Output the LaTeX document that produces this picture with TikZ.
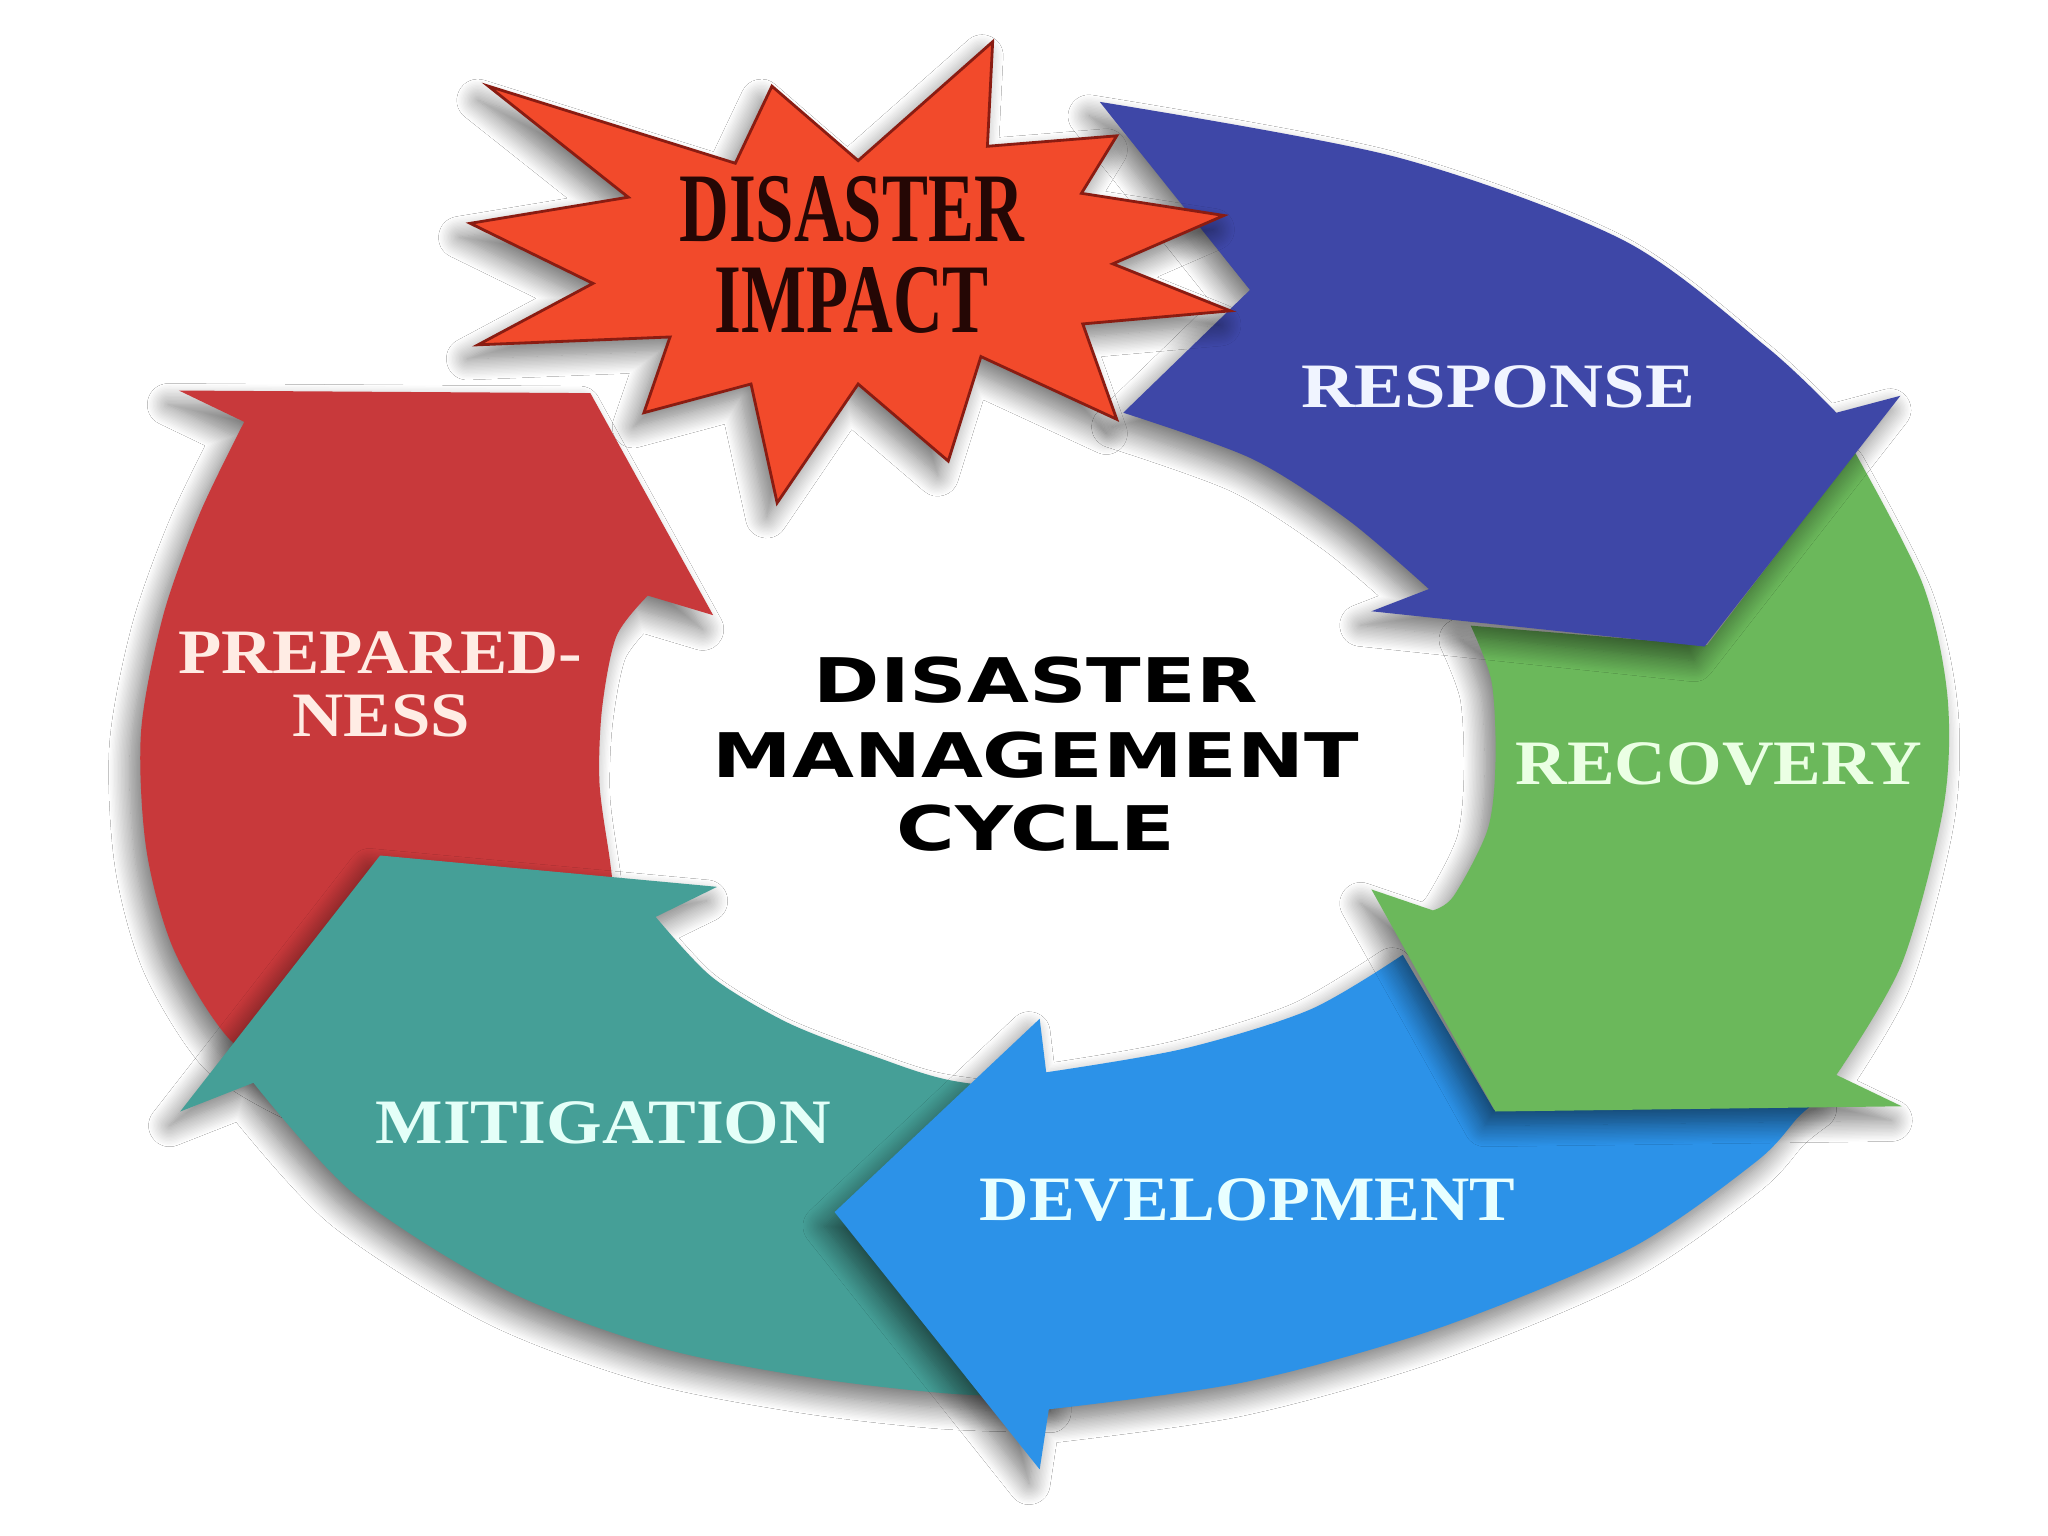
\documentclass[tikz,border=0pt]{standalone}
\usepackage{fontspec}
\usepackage{graphicx}
\setmainfont{Liberation Serif}
\newfontfamily\centerfont{DejaVu Sans}
\usetikzlibrary{shadows.blur}
\definecolor{cblue}{HTML}{3E47A7}
\definecolor{cgreen}{HTML}{6BB85B}
\definecolor{clblue}{HTML}{2C92E8}
\definecolor{cteal}{HTML}{459F97}
\definecolor{cred}{HTML}{C8393B}
\definecolor{cstar}{HTML}{F24A2B}
\definecolor{cstarline}{HTML}{8A1C12}
\definecolor{cstartext}{HTML}{250705}
\begin{document}
\begin{tikzpicture}[x=0.013061cm,y=-0.013061cm,
  arrowshape/.style={blur shadow={shadow xshift=-3pt,shadow yshift=-4pt,shadow blur radius=6pt,shadow blur steps=16,shadow opacity=55}},
  lbl/.style={font=\bfseries\fontsize{18}{18}\selectfont, inner sep=0pt},
  ctext/.style={font=\centerfont\bfseries\fontsize{17.5}{17.5}\selectfont, inner sep=0pt, text=black},
  stext/.style={font=\bfseries\fontsize{28}{28}\selectfont, inner sep=0pt, text=cstartext}
]
\useasboundingbox (0,0) rectangle (1568,1176);
\fill[white] (0,0) rectangle (1568,1176);

% red: preparedness
\fill[cred, arrowshape] (137,299) -- (452,301) -- (546,471) -- (496,456)
  -- plot[smooth] coordinates {(496,456) (472,487) (461,542) (459,600) (467,659) (472,700)}
  -- (230,830)
  -- plot[smooth] coordinates {(230,830) (176,796) (133,727) (112,650) (108,560) (125,471) (153,393) (187,323)}
  -- cycle;

% teal: mitigation
\fill[cteal, arrowshape] (291,655) -- (549,679) -- (502,702)
  -- plot[smooth] coordinates {(502,702) (545,748) (603,783) (670,809) (727,827) (812,838)}
  -- (812,1070)
  -- plot[smooth] coordinates {(812,1070) (727,1067) (623,1055) (506,1032) (388,988) (271,914) (194,829)}
  -- (138,851) -- cycle;

% light blue: development
\fill[clblue, arrowshape] (796,780) -- (639,928) -- (796,1125) -- (803,1079)
  -- plot[smooth] coordinates {(803,1079) (954,1058) (1101,1017) (1248,956) (1345,889) (1378,854) (1398,838)}
  -- (1144,850) -- (1074,731)
  -- plot[smooth] coordinates {(1074,731) (1003,773) (906,803) (801,821)}
  -- cycle;

% green: recovery
\fill[cgreen, arrowshape] (1420,346)
  -- plot[smooth] coordinates {(1420,346) (1472,447) (1491,533) (1488,618) (1456,738) (1406,823)}
  -- (1456,847) -- (1145,851) -- (1050,681) -- (1097,697)
  -- plot[smooth] coordinates {(1097,697) (1113,686) (1139,635) (1145,583) (1142,522) (1126,479)}
  -- (1307,494) -- cycle;

% blue: response
\fill[cblue, arrowshape] (842,78)
  -- plot[smooth] coordinates {(842,78) (1068,120) (1243,184) (1353,266) (1406,316)}
  -- (1455,303) -- (1305,495) -- (1050,468) -- (1094,451)
  -- plot[smooth] coordinates {(1094,451) (1032,398) (958,351) (860,316)}
  -- (957,222) -- cycle;

% star: disaster impact
\filldraw[fill=cstar, draw=cstarline, line width=0.8pt, line join=miter, arrowshape]
  (374,66) -- (563,125) -- (591,66) -- (657,123) -- (760,32) -- (756,112)
  -- (855,104) -- (828,148) -- (937,165) -- (852,202) -- (942,238) -- (829,248)
  -- (855,321) -- (751,273) -- (726,353) -- (657,294) -- (595,385) -- (575,294)
  -- (493,316) -- (513,258) -- (366,264) -- (454,217) -- (360,171) -- (481,151) -- cycle;

\node[stext] (impact1) at (652,160) {\scalebox{0.70}[1]{DISASTER}};
\node[stext] (impact2) at (652,230) {\scalebox{0.70}[1]{IMPACT}};

% centre
\node[ctext] (c1) at (793,521) {\scalebox{1.3}[1]{DISASTER}};
\node[ctext] (c2) at (793,578) {\scalebox{1.3}[1]{MANAGEMENT}};
\node[ctext] (c3) at (793,634) {\scalebox{1.3}[1]{CYCLE}};

% labels
\node[lbl, text={rgb,255:red,240;green,244;blue,255}] (response) at (1147,296) {\scalebox{1.18}[1]{RESPONSE}};
\node[lbl, text={rgb,255:red,235;green,255;blue,228}] (recovery) at (1316,585) {\scalebox{1.13}[1]{RECOVERY}};
\node[lbl, text={rgb,255:red,232;green,255;blue,255}] (development) at (955,919) {\scalebox{1.08}[1]{DEVELOPMENT}};
\node[lbl, text={rgb,255:red,228;green,255;blue,248}] (mitigation) at (462,860) {\scalebox{1.13}[1]{MITIGATION}};
\node[lbl, text={rgb,255:red,255;green,236;blue,228}] (prep1) at (291,500) {\scalebox{1.12}[1]{PREPARED-}};
\node[lbl, text={rgb,255:red,255;green,236;blue,228}] (prep2) at (292,548) {\scalebox{1.12}[1]{NESS}};
\end{tikzpicture}
\end{document}
